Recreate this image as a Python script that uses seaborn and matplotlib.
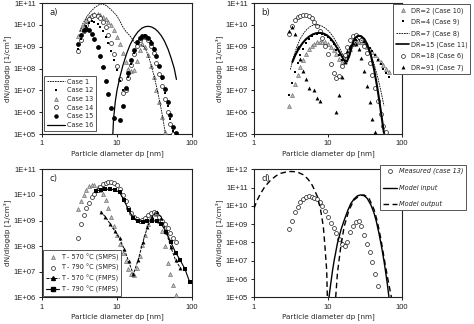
import numpy as np
import pandas as pd
import matplotlib
matplotlib.use("Agg")
import matplotlib.pyplot as plt
import seaborn as sns
from matplotlib.lines import Line2D
from matplotlib.ticker import FixedLocator, FixedFormatter, NullLocator

nan = np.nan

# ---------------- DATA (log10 of dN/dlogdp [1/cm3]) ----------------
# common SMPS size channels [nm]
dp_smps = [3.0, 3.3, 3.6, 3.9, 4.2, 4.6, 5.0, 5.5, 6.0, 6.5,
           7.1, 7.7, 8.4, 9.2, 10.0, 10.9, 11.9, 13.0, 14.1, 15.4,
           16.8, 18.3, 20.0, 21.8, 23.7, 25.9, 28.2, 30.8, 33.5, 36.5,
           39.8, 43.4, 47.3, 51.6, 56.2, 61.3, 66.8]

# panel a
case1_dp = [3.2, 3.5, 4.0, 4.5, 5.0, 5.5, 6.0, 6.5, 7.2, 8.0,
            9.0, 10.0, 11.0, 12.0, 13.0, 14.0, 15.5, 17.0, 18.5, 20.0,
            22.0, 24.0, 26.0, 28.0, 31.0, 34.0, 37.0, 40.0, 44.0]
case1_log = [9.7, 10.05, 10.4, 10.62, 10.78, 10.88, 10.95, 10.95, 10.88, 10.75,
             10.58, 10.4, 10.15, 9.9, 9.72, 9.6, 9.42, 9.2, 9.08, 9.1,
             9.05, 8.9, 8.6, 8.25, 7.7, 7.1, 6.5, 5.9, 5.05]
case12_log = [8.9, 9.35, 9.7, 9.95, 10.1, 10.17, 10.15, 10.05, 9.9, 9.7,
              9.45, 9.15, 8.8, 8.4, 7.95, 7.45, 7.0, 7.05, 7.6, 8.2,
              8.7, 9.1, 9.35, 9.5, 9.52, 9.45, 9.25, 8.95, 8.55, 8.05,
              7.5, 6.9, 6.3, 5.7, 5.15, nan, nan]
case13_log = [9.5, 9.8, 10.0, 10.2, 10.35, 10.45, 10.5, 10.5, 10.45, 10.35,
              10.25, 10.15, 10.0, 9.75, 9.45, 9.1, 8.7, 8.3, 8.0, 7.87,
              7.95, 8.35, 8.85, 9.1, 9.0, 8.6, 8.1, 7.6, 7.0, 6.45,
              5.8, 5.1, nan, nan, nan, nan, nan]
case14_log = [8.8, 9.3, 9.7, 10.0, 10.25, 10.4, 10.45, 10.42, 10.3, 10.12,
              9.88, 9.55, 9.15, 8.65, 8.1, 7.5, 6.9, 7.0, 7.55, 8.15,
              8.65, 9.05, 9.3, 9.42, 9.42, 9.3, 9.05, 8.7, 8.25, 7.75,
              7.2, 6.6, 6.0, 5.45, 5.0, nan, nan]
case15_log = [9.1, 9.55, 9.75, 9.8, 9.75, 9.6, 9.35, 9.0, 8.55, 8.05,
              7.45, 6.85, 6.2, 5.75, nan, 5.65, 6.3, 7.1, 7.8, 8.4,
              8.85, 9.2, 9.4, 9.5, 9.48, 9.38, 9.18, 8.9, 8.55, 8.1,
              7.6, 7.05, 6.45, 5.85, 5.3, 5.05, nan]
case16_dp = [8.8, 9.0, 9.5, 10.0, 11.0, 12.0, 13.5, 15.0, 17.0, 19.0,
             21.5, 24.0, 26.5, 29.0, 32.0, 35.0, 39.0, 43.0, 48.0, 53.0,
             58.0, 62.0]
case16_log = [5.0, 5.7, 6.5, 7.0, 7.65, 8.15, 8.7, 9.1, 9.45, 9.68,
              9.85, 9.92, 9.93, 9.9, 9.82, 9.7, 9.5, 9.25, 8.88, 8.45,
              8.0, 7.5]

# panel b
dr2_log = [6.3, 6.8, 7.3, 7.7, 8.05, 8.4, 8.65, 8.88, 9.03, 9.13,
           9.2, 9.23, 9.23, 9.2, 9.12, 9.0, 8.85, 8.65, 8.45, 8.32,
           8.35, 8.6, 8.9, 9.1, 9.2, 9.23, 9.2, 9.12, 9.0, 8.88,
           8.75, 8.6, 8.45, 8.3, 8.15, 8.0, 7.85]
dr4_log = [6.8, 7.35, 7.85, 8.25, 8.6, 8.9, 9.15, 9.35, 9.48, 9.56,
           9.6, 9.62, 9.6, 9.55, 9.45, 9.3, 9.1, 8.85, 8.6, 8.4,
           8.35, 8.55, 8.9, 9.15, 9.3, 9.33, 9.3, 9.22, 9.1, 8.95,
           8.78, 8.6, 8.4, 8.2, 7.98, 7.78, 7.6]
dr7_dp = [3.1, 3.4, 3.8, 4.2, 4.7, 5.2, 5.8, 6.5, 7.3, 8.2,
          9.2, 10.3, 11.5, 13.0, 14.5, 16.0, 17.5, 19.0, 21.0, 23.0,
          25.5, 28.0, 31.0, 34.0, 38.0, 42.0, 47.0, 52.0, 57.0]
dr7_log = [7.95, 8.5, 9.0, 9.35, 9.62, 9.8, 9.93, 10.0, 10.0, 9.95,
           9.85, 9.7, 9.5, 9.2, 8.9, 8.6, 8.45, 8.55, 8.9, 9.15,
           9.3, 9.3, 9.2, 9.0, 8.65, 8.2, 7.6, 6.95, 6.3]
dr15_dp = [3.3, 3.6, 4.0, 4.5, 5.0, 5.6, 6.3, 7.0, 7.8, 8.7,
           9.7, 10.8, 12.0, 13.4, 15.0, 16.5, 18.0, 19.5, 21.0, 23.0,
           25.5, 28.0, 31.0, 34.0, 38.0, 42.0, 46.0, 50.0, 54.0, 57.0]
dr15_log = [8.3, 8.6, 8.9, 9.15, 9.33, 9.47, 9.57, 9.62, 9.63, 9.6,
            9.52, 9.38, 9.18, 8.92, 8.62, 8.38, 8.32, 8.6, 9.05, 9.38,
            9.5, 9.48, 9.35, 9.1, 8.6, 7.95, 7.2, 6.4, 5.6, 5.05]
dr18_log = [9.6, 9.95, 10.2, 10.35, 10.42, 10.45, 10.45, 10.4, 10.3, 10.15,
            9.95, 9.7, 9.4, 9.05, 8.65, 8.2, 7.8, 7.55, 7.65, 8.1,
            8.6, 9.0, 9.3, 9.47, 9.52, 9.45, 9.3, 9.05, 8.7, 8.25,
            7.7, 7.1, 6.5, 5.9, 5.35, 5.1, nan]
dr91_log = [9.7, 9.9, 9.6, 9.0, 8.45, 7.9, 7.5, 7.1, nan, 7.0,
            6.65, 6.5, nan, nan, nan, nan, nan, 6.0, 6.8, 7.6,
            8.3, 8.8, 9.05, 9.15, 9.12, 8.9, 8.5, 7.9, 7.2, 6.45,
            5.7, 5.1, nan, nan, nan, nan, nan]

# panel c
t570_smps_log = [9.45, 9.75, 10.0, 10.2, 10.33, 10.38, 10.38, 10.32, 10.2, 10.05,
                 9.8, 9.5, 9.15, 8.8, 8.45, 8.1, 7.75, 7.4, 7.1, 6.9,
                 6.88, 7.15, 7.6, 8.05, 8.45, 8.85, 9.15, 9.3, 9.25, 9.0,
                 8.6, 8.0, 7.35, 6.9, 6.5, 6.1, nan]
t790_smps_log = [8.3, 8.85, 9.2, 9.5, 9.7, 9.9, 10.05, 10.2, 10.32, 10.42,
                 10.48, 10.52, 10.52, 10.48, 10.38, 10.22, 10.0, 9.75, 9.5, 9.3,
                 9.15, 9.05, 9.0, 9.02, 9.1, 9.22, 9.3, 9.32, 9.28, 9.15,
                 9.0, 8.85, 8.7, 8.5, 8.3, 8.15, nan]
dp_fmps = [5.23, 6.04, 6.98, 8.06, 9.31, 10.8, 12.4, 14.3, 16.5, 19.1,
           22.1, 25.5, 29.4, 34.0, 39.2, 45.3, 52.3, 60.4, 69.8, 80.6, 93.1]
t570_fmps_log = [nan, 9.35, 9.15, 8.88, 8.6, 8.3, 7.9, 7.4, 6.9, 7.45,
                 8.15, 8.75, 9.15, 9.35, 9.1, 8.55, 7.95, 7.45, 7.15, nan, nan]
t790_fmps_log = [10.15, 10.2, 10.22, 10.22, 10.2, 10.1, 9.8, 9.4, 9.1, 8.98,
                 8.95, 8.97, 9.0, 8.97, 8.85, 8.55, 8.15, 7.75, 7.45, 7.1, 6.6]

# panel d
meas_log = [8.76, 9.2, 9.65, 9.95, 10.2, 10.38, 10.5, 10.53, 10.5, 10.45,
            10.35, 10.2, 9.98, 9.7, 9.4, 9.05, 8.8, 8.5, 8.2, 7.9,
            7.78, 8.05, 8.55, 8.9, 9.12, 9.15, 8.9, 8.4, 7.9, 7.45,
            6.95, 6.3, 5.6, nan, nan, nan, nan]
min_dp = [10.3, 10.9, 11.5, 12.1, 13.4, 15.0, 16.5, 18.5, 20.3, 22.5,
          25.0, 27.7, 31.0, 34.0, 38.0, 41.9, 45.0, 48.8, 53.0, 57.0,
          60.0, 63.0, 66.7]
min_log = [5.0, 5.75, 6.45, 7.0, 7.95, 8.7, 9.2, 9.75, 10.12, 10.38,
           10.55, 10.6, 10.55, 10.4, 10.05, 9.6, 9.15, 8.5, 7.75, 7.0,
           6.4, 5.8, 5.0]
mout1_dp = [1.0, 1.1, 1.23, 1.4, 1.68, 2.0, 2.3, 2.7, 3.1, 3.5,
            4.0, 4.7, 5.4, 6.1, 6.6, 7.2, 7.95, 8.65, 9.1, 9.6, 9.8]
mout1_log = [9.86, 10.3, 10.68, 11.05, 11.41, 11.65, 11.78, 11.85, 11.88, 11.87,
             11.82, 11.69, 11.45, 11.14, 10.85, 10.5, 9.77, 8.86, 7.76, 6.48, 5.0]
mout2_dp = [12.7, 13.4, 14.8, 16.5, 19.2, 22.5, 26.2, 30.6, 35.8, 41.9,
            46.4, 51.5, 57.0, 63.0, 68.0, 72.0]
mout2_log = [5.0, 6.3, 7.7, 8.85, 9.77, 10.32, 10.54, 10.6, 10.42, 9.8,
             9.15, 8.25, 7.2, 6.2, 5.5, 5.0]


def frame(dp, logn):
    d = pd.DataFrame({"dp": np.asarray(dp, float), "n": 10.0 ** np.asarray(logn, float)})
    return d.dropna()


# ---------------- STYLE ----------------
sns.set_theme(style="ticks")
plt.rcParams["font.family"] = ["DejaVu Sans"]
plt.rcParams["axes.linewidth"] = 0.8
plt.rcParams["axes.edgecolor"] = "#222222"

TICK_FAMILY = "Liberation Sans"
TICK_SIZE = 5.5
LAB_FONT = 5.2
LEG_FONT = 4.7

M_SQ = dict(marker="s", s=4, color="black", edgecolor="black", linewidth=0)
M_TRI_G = dict(marker="^", s=8, color="#c0c0c0", edgecolor="#5a5a5a", linewidth=0.4)
M_CIRC_O = dict(marker="o", s=8, color="white", edgecolor="#1a1a1a", linewidth=0.5)
M_CIRC_B = dict(marker="o", s=12, color="black", edgecolor="black", linewidth=0)
M_TRI_B = dict(marker="^", s=8, color="black", edgecolor="black", linewidth=0)


def scat(ax, dp, logn, sty):
    sns.scatterplot(data=frame(dp, logn), x="dp", y="n", ax=ax, legend=False, zorder=3, **sty)


def line(ax, dp, logn, **kw):
    sns.lineplot(data=frame(dp, logn), x="dp", y="n", ax=ax, legend=False,
                 estimator=None, sort=True, zorder=4, **kw)


def setup(ax, e0, e1, tag):
    ax.set_xscale("log")
    ax.set_yscale("log")
    ax.set_xlim(1, 100)
    ax.set_ylim(10.0 ** e0, 10.0 ** e1)
    ax.xaxis.set_major_locator(FixedLocator([1, 10, 100]))
    ax.xaxis.set_major_formatter(FixedFormatter(["1", "10", "100"]))
    ax.xaxis.set_minor_locator(NullLocator())
    ys = list(range(e0, e1 + 1))
    ax.yaxis.set_major_locator(FixedLocator([10.0 ** k for k in ys]))
    ax.yaxis.set_major_formatter(FixedFormatter(["1E+%02d" % k for k in ys]))
    ax.yaxis.set_minor_locator(NullLocator())
    ax.tick_params(length=2.5, width=0.7, pad=2, colors="#222222")
    for lab in ax.get_xticklabels() + ax.get_yticklabels():
        lab.set_fontfamily(TICK_FAMILY)
        lab.set_fontsize(TICK_SIZE)
    ax.set_xlabel("Particle diameter dp [nm]", fontsize=LAB_FONT, labelpad=2)
    ax.set_ylabel("dN/dlogdp [1/cm³]", fontsize=LAB_FONT, labelpad=2)
    ax.text(0.05, 0.93, tag, transform=ax.transAxes, fontsize=6.2, ha="left", va="center")
    for s in ax.spines.values():
        s.set_visible(True)


def h_marker(m, fc, ec, ms, mew=0.5):
    return Line2D([], [], linestyle="none", marker=m, markerfacecolor=fc,
                  markeredgecolor=ec, markersize=ms, markeredgewidth=mew)


def h_line(ls, lw, marker=None, ms=2.5):
    return Line2D([], [], color="black", linestyle=ls, linewidth=lw,
                  marker=marker if marker else "None", markersize=ms)


def legend(ax, handles, labels, anchor, loc, spacing, italic=False, hl=2.2):
    lg = ax.legend(handles, labels, loc=loc, bbox_to_anchor=anchor, borderaxespad=0,
                   fontsize=LEG_FONT, frameon=True, fancybox=False, framealpha=1,
                   edgecolor="#555555", labelspacing=spacing, handlelength=hl,
                   handletextpad=0.25, borderpad=0.45)
    lg.get_frame().set_linewidth(0.7)
    lg.set_zorder(10)
    if italic:
        for t in lg.get_texts():
            t.set_fontstyle("italic")
    return lg


fig = plt.figure(figsize=(4.74, 3.24), dpi=100)
W, H = 474.0, 324.0
ax_a = fig.add_axes([42 / W, 1 - 134 / H, 150 / W, 131 / H])
ax_b = fig.add_axes([254 / W, 1 - 134 / H, 148 / W, 131 / H])
ax_c = fig.add_axes([42 / W, 1 - 297.3 / H, 150 / W, 128 / H])
ax_d = fig.add_axes([254 / W, 1 - 297.3 / H, 148 / W, 128 / H])

# ---------------- panel a ----------------
ax = ax_a
line(ax, case1_dp, case1_log, color="black", linewidth=0.6, linestyle=(0, (2, 1)))
scat(ax, dp_smps, case13_log, M_TRI_G)
scat(ax, dp_smps, case14_log, M_CIRC_O)
scat(ax, dp_smps, case12_log, M_SQ)
scat(ax, dp_smps, case15_log, M_CIRC_B)
line(ax, case16_dp, case16_log, color="black", linewidth=0.9)
setup(ax, 5, 11, "a)")
legend(ax,
       [h_line((0, (2, 1)), 0.6), h_marker("s", "black", "black", 2.0, 0),
        h_marker("^", "#c0c0c0", "#5a5a5a", 2.8, 0.4), h_marker("o", "white", "#1a1a1a", 2.8, 0.5),
        h_marker("o", "black", "black", 3.2, 0), h_line("-", 0.9)],
       ["Case 1", "Case 12", "Case 13", "Case 14", "Case 15", "Case 16"],
       (0.013, 0.025), "lower left", 0.4, hl=2.8)

# ---------------- panel b ----------------
ax = ax_b
scat(ax, dp_smps, dr2_log, M_TRI_G)
scat(ax, dp_smps, dr4_log, M_SQ)
line(ax, dr7_dp, dr7_log, color="black", linewidth=0.6, linestyle=(0, (2, 1)))
scat(ax, dp_smps, dr18_log, M_CIRC_O)
line(ax, dr15_dp, dr15_log, color="black", linewidth=1.5)
scat(ax, dp_smps, dr91_log, M_TRI_B)
setup(ax, 5, 11, "b)")
legend(ax,
       [h_marker("^", "#c0c0c0", "#5a5a5a", 2.8, 0.4), h_marker("s", "black", "black", 2.0, 0),
        h_line((0, (2, 1)), 0.6), h_line("-", 1.2),
        h_marker("o", "white", "#1a1a1a", 2.8, 0.5), h_marker("^", "black", "black", 2.8, 0)],
       ["DR=2 (Case 10)", "DR=4 (Case 9)", "DR=7 (Case 8)", "DR=15 (Case 11)",
        "DR=18 (Case 6)", "DR=91 (Case 7)"],
       (0.94, 0.99), "upper left", 0.75, hl=2.0)

# ---------------- panel c ----------------
ax = ax_c
scat(ax, dp_smps, t570_smps_log, M_TRI_G)
scat(ax, dp_smps, t790_smps_log, M_CIRC_O)
line(ax, dp_fmps, t570_fmps_log, color="black", linewidth=0.7, linestyle=(0, (3, 1.2)),
     marker="^", markersize=2.8, markeredgewidth=0)
line(ax, dp_fmps, t790_fmps_log, color="black", linewidth=0.8,
     marker="s", markersize=2.4, markeredgewidth=0)
setup(ax, 6, 11, "c)")
legend(ax,
       [h_marker("^", "#c0c0c0", "#5a5a5a", 2.8, 0.4), h_marker("o", "white", "#1a1a1a", 2.8, 0.5),
        h_line((0, (3, 1.2)), 0.7, "^", 2.8), h_line("-", 0.8, "s", 2.4)],
       ["T - 570 °C (SMPS)", "T - 790 °C (SMPS)", "T - 570 °C (FMPS)", "T - 790 °C (FMPS)"],
       (0.007, 0.01), "lower left", 0.55, hl=2.0)

# ---------------- panel d ----------------
ax = ax_d
scat(ax, dp_smps, meas_log, M_CIRC_O)
line(ax, min_dp, min_log, color="black", linewidth=1.0)
line(ax, mout1_dp, mout1_log, color="black", linewidth=1.0, linestyle=(0, (4, 2.5)))
line(ax, mout2_dp, mout2_log, color="black", linewidth=1.0, linestyle=(0, (4, 2.5)))
setup(ax, 5, 12, "d)")
legend(ax,
       [h_marker("o", "white", "#1a1a1a", 2.8, 0.5), h_line("-", 1.0), h_line((0, (4, 2.5)), 1.0)],
       ["Measured (case 13)", "Model input", "Model output"],
       (0.85, 1.034), "upper left", 1.6, italic=True, hl=2.2)

fig.savefig("out.png", dpi=100)
